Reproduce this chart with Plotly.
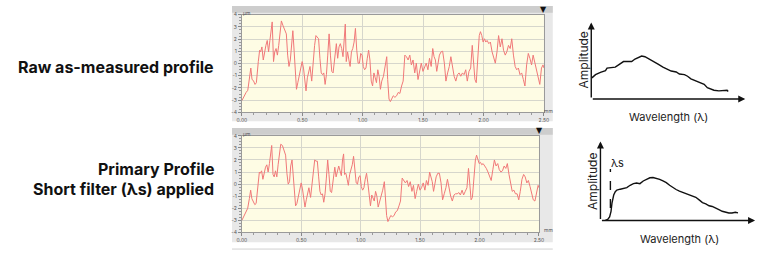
import plotly.graph_objects as go

W, H = 768, 254

# ---------------- data ----------------
pos_mm = [0.000, 0.019, 0.035, 0.049, 0.063, 0.074, 0.084, 0.095, 0.109, 0.120,
          0.136, 0.147, 0.155, 0.166, 0.177, 0.188, 0.199, 0.210, 0.221, 0.232,
          0.243, 0.251, 0.262, 0.272, 0.283, 0.294, 0.305, 0.316, 0.327, 0.341,
          0.354, 0.368, 0.379, 0.390, 0.401, 0.411, 0.422, 0.433, 0.441, 0.452,
          0.463, 0.474, 0.485, 0.499, 0.510, 0.520, 0.531, 0.542, 0.553, 0.564,
          0.578, 0.591, 0.602, 0.613, 0.624, 0.635, 0.646, 0.657, 0.668, 0.678,
          0.689, 0.700, 0.711, 0.722, 0.733, 0.744, 0.755, 0.768, 0.782, 0.793,
          0.804, 0.815, 0.826, 0.837, 0.847, 0.856, 0.864, 0.875, 0.886, 0.896,
          0.907, 0.918, 0.929, 0.940, 0.951, 0.962, 0.973, 0.984, 0.995, 1.005,
          1.016, 1.027, 1.038, 1.049, 1.060, 1.071, 1.082, 1.093, 1.104, 1.114,
          1.125, 1.136, 1.147, 1.158, 1.172, 1.185, 1.199, 1.207, 1.218, 1.229,
          1.240, 1.253, 1.267, 1.281, 1.294, 1.308, 1.322, 1.335, 1.349, 1.362,
          1.376, 1.390, 1.403, 1.417, 1.431, 1.444, 1.458, 1.471, 1.485, 1.499,
          1.512, 1.526, 1.540, 1.553, 1.567, 1.580, 1.591, 1.602, 1.613, 1.624,
          1.635, 1.649, 1.662, 1.676, 1.689, 1.703, 1.717, 1.730, 1.744, 1.757,
          1.771, 1.785, 1.798, 1.812, 1.826, 1.839, 1.853, 1.866, 1.880, 1.894,
          1.907, 1.918, 1.929, 1.940, 1.954, 1.965, 1.975, 1.986, 1.997, 2.008,
          2.019, 2.030, 2.044, 2.057, 2.071, 2.084, 2.098, 2.112, 2.125, 2.139,
          2.153, 2.166, 2.180, 2.193, 2.207, 2.221, 2.234, 2.248, 2.262, 2.275,
          2.289, 2.302, 2.316, 2.330, 2.343, 2.357, 2.371, 2.384, 2.398, 2.411,
          2.425, 2.439, 2.452, 2.466, 2.480, 2.493, 2.500]

raw_um = [-3.04, -2.64, -2.37, -2.19, -1.17, -0.37, -1.31, -1.39, -1.71, -1.57,
          0.16, 1.09, 0.96, 1.36, 0.29, 1.09, 1.49, 1.89, 0.96, 1.89,
          3.09, 3.41, 0.16, 0.96, 1.23, 0.69, 1.49, 2.56, 3.49, 3.09,
          2.69, 2.43, 0.69, -0.24, 0.29, 1.76, 2.69, 0.96, -0.37, -2.11,
          -1.57, -1.04, -0.77, 0.16, -0.37, -1.17, -2.24, -1.17, -0.77, -0.24,
          -1.44, 0.43, 1.49, 2.29, 2.16, 2.03, 0.43, -0.77, -0.91, -0.77,
          -1.71, -0.91, 0.69, 2.43, 0.69, -0.64, -0.77, 0.43, 1.63, 0.43,
          1.36, 1.63, 1.23, 0.56, 2.29, 3.23, 0.16, 0.96, 0.29, -0.24,
          0.96, 1.23, 1.76, 2.88, 1.09, 0.03, 0.03, 0.83, 0.69, -0.24,
          -0.51, -0.37, 0.43, 1.09, 0.29, -1.44, -1.84, -0.77, -1.17, -1.57,
          -0.51, -1.04, -2.11, -1.44, -1.04, -0.37, 0.56, -1.31, -2.91, -3.12,
          -2.91, -2.64, -2.77, -2.64, -2.37, -2.45, -1.84, -1.44, 0.69, 0.56,
          0.29, 0.69, -0.11, 0.29, -0.77, 0.03, -1.31, -0.51, 0.03, -0.64,
          -0.37, 0.03, -0.51, 0.43, -0.24, 1.23, 0.56, 0.29, -0.64, 0.16,
          0.69, 0.96, 1.01, 0.03, -1.44, -0.77, -0.24, 0.56, -0.37, -1.04,
          -1.44, -0.91, -0.77, -1.04, -0.77, -0.91, -0.51, -1.44, -0.64, -0.37,
          1.49, -0.24, -1.31, -1.57, 0.96, 2.29, 2.61, 2.29, 1.76, 2.03,
          1.76, 1.89, 1.63, 1.76, 0.96, 0.43, 0.03, 0.96, 2.29, 1.36,
          2.03, 1.09, 0.69, 0.96, 1.49, 1.23, 2.03, 0.69, -0.24, -0.51,
          -0.37, -0.91, -0.77, -1.31, -1.84, -0.11, 0.83, 0.43, -0.11, 0.69,
          0.03, -0.64, -1.17, -1.71, -0.37, -0.11, -0.37]

primary_um = [-3.0, -2.6, -2.3, -2.0, -1.2, -0.5, -1.2, -1.5, -1.7, -1.6,
              0.3, 1.0, 0.9, 1.1, 0.4, 1.0, 1.4, 1.6, 1.0, 1.7,
              2.7, 3.2, 0.8, 0.6, 1.1, 0.6, 1.6, 2.7, 3.3, 3.2,
              2.8, 2.4, 0.9, 0.0, 0.2, 1.5, 2.0, 0.6, -0.6, -1.8,
              -1.6, -1.0, -0.6, 0.1, -0.4, -1.0, -1.9, -1.3, -0.8, -0.3,
              -1.1, 0.3, 1.3, 2.0, 1.9, 1.9, 0.6, -0.6, -0.9, -0.8,
              -1.5, -0.8, 0.5, 2.0, 0.8, -0.6, -0.7, 0.4, 1.4, 0.6,
              1.2, 1.5, 1.1, 0.7, 2.0, 2.5, 0.8, 0.9, 0.4, -0.1,
              0.8, 1.2, 1.6, 2.3, 1.1, 0.1, 0.0, 0.6, 0.7, -0.2,
              -0.5, -0.3, 0.4, 0.9, 0.1, -1.2, -1.8, -0.9, -1.1, -1.4,
              -0.6, -1.0, -1.9, -1.5, -1.1, -0.5, 0.2, -1.0, -2.6, -3.1,
              -2.9, -2.6, -2.7, -2.6, -2.3, -2.2, -1.8, -1.4, 0.5, 0.3,
              0.1, 0.3, -0.2, 0.2, -0.6, -0.1, -1.2, -0.6, 0.0, -0.5,
              -0.3, 0.1, -0.5, 0.3, -0.1, 1.0, 0.5, 0.2, -0.6, 0.1,
              0.6, 0.9, 0.9, 0.1, -1.3, -0.8, -0.3, 0.4, -0.4, -1.0,
              -1.4, -0.9, -0.8, -0.8, -0.7, -0.9, -0.5, -0.9, -0.6, -0.3,
              1.3, 0.0, -1.3, -1.1, 0.8, 2.0, 2.4, 2.1, 1.7, 1.8,
              1.6, 1.7, 1.5, 1.3, 1.0, 0.6, 0.3, 1.2, 2.0, 1.5,
              1.7, 1.2, 1.0, 1.1, 1.5, 1.3, 1.7, 0.8, 0.0, -0.6,
              -0.5, -0.8, -0.8, -1.3, -0.6, 0.4, 0.8, 0.6, 0.1, 0.3,
              -0.2, -0.8, -1.3, -1.4, -0.6, -0.1, -0.3]

x_ticks = [0.0, 0.5, 1.0, 1.5, 2.0, 2.5]
y_ticks = [4, 3, 2, 1, 0, -1, -2, -3, -4]

# sketch 1: raw spectrum
wl1 = [0.04, 0.27, 0.58, 0.90, 1.00, 1.21, 1.52, 1.73, 2.04, 2.35, 2.56, 2.77,
       2.98, 3.19, 3.40, 3.60, 3.92, 4.23, 4.54, 4.85, 5.06, 5.38, 5.58, 5.90,
       6.10, 6.31, 6.63, 6.94, 7.15, 7.35, 7.56, 7.77, 8.08, 8.40, 8.60, 8.67]
amp1 = [2.70, 3.12, 3.41, 3.62, 3.95, 4.04, 4.08, 4.37, 4.79, 4.79, 4.79, 5.12,
        5.29, 5.50, 5.41, 5.20, 4.87, 4.45, 4.08, 3.75, 3.58, 3.45, 3.20, 3.12,
        2.91, 2.58, 2.29, 2.08, 1.87, 1.45, 1.25, 1.12, 1.04, 1.04, 1.12, 0.95]

# sketch 2: after short filter
wl2 = [0.31, 0.46, 0.58, 0.67, 0.73, 0.84, 0.94, 1.04, 1.25, 1.46, 1.67, 1.88,
       2.09, 2.29, 2.50, 2.71, 2.92, 3.13, 3.33, 3.54, 3.75, 3.96, 4.17, 4.38,
       4.58, 4.79, 5.00, 5.21, 5.42, 5.63, 5.83, 6.04, 6.25, 6.46, 6.67, 6.88,
       7.08, 7.29, 7.50, 7.71, 7.92, 8.13, 8.33, 8.54, 8.71]
amp2 = [0.00, 0.13, 0.46, 1.17, 2.21, 3.25, 3.67, 3.88, 4.00, 4.09, 4.21, 4.50,
        4.71, 4.79, 4.71, 5.05, 5.25, 5.46, 5.50, 5.42, 5.25, 5.05, 4.84, 4.50,
        4.21, 3.96, 3.75, 3.59, 3.46, 3.25, 3.13, 2.96, 2.63, 2.29, 2.13, 1.88,
        1.79, 1.54, 1.38, 1.17, 1.04, 0.96, 0.96, 1.04, 0.96]
cutoff_ls = 0.63
cutoff_span = [1.59, 6.59]

# ---------------- layout helpers ----------------
def px(x):
    return x / W

def py(y):
    return 1 - y / H

FONT = "Inter, Liberation Sans, Arial, sans-serif"
RED = "#f07878"
CREAM = "#fefce4"
GRID = "#d6d6cc"

fig = go.Figure()

fig.add_trace(go.Scatter(x=pos_mm, y=raw_um, mode="lines",
                         line=dict(color=RED, width=1), xaxis="x", yaxis="y",
                         showlegend=False, hoverinfo="skip"))
fig.add_trace(go.Scatter(x=pos_mm, y=primary_um, mode="lines",
                         line=dict(color=RED, width=1), xaxis="x2", yaxis="y2",
                         showlegend=False, hoverinfo="skip"))
fig.add_trace(go.Scatter(x=wl1, y=amp1, mode="lines",
                         line=dict(color="#111", width=1.4), xaxis="x3", yaxis="y3",
                         showlegend=False, hoverinfo="skip"))
fig.add_trace(go.Scatter(x=wl2, y=amp2, mode="lines",
                         line=dict(color="#111", width=1.4), xaxis="x4", yaxis="y4",
                         showlegend=False, hoverinfo="skip"))
fig.add_trace(go.Scatter(x=[cutoff_ls, cutoff_ls], y=cutoff_span, mode="lines",
                         line=dict(color="#111", width=1.4, dash="dash"),
                         xaxis="x4", yaxis="y4", showlegend=False, hoverinfo="skip"))

def prof_x(dom):
    return dict(domain=dom, range=[0, 2.5], tickvals=x_ticks,
                ticktext=[f"{v:.2f}" for v in x_ticks],
                showgrid=True, gridcolor=GRID, gridwidth=1,
                showline=True, linecolor="#9a9a9a", linewidth=1, mirror=True,
                ticks="outside", ticklen=3, tickcolor="#888",
                tickfont=dict(size=5, color="#555", family=FONT),
                minor=dict(dtick=0.1, ticklen=2, tickcolor="#999", ticks="outside", showgrid=False),
                zeroline=False, fixedrange=True)

def prof_y(dom):
    return dict(domain=dom, range=[-4, 4], tickvals=y_ticks,
                ticktext=[str(v) for v in y_ticks],
                showgrid=True, gridcolor=GRID, gridwidth=1,
                showline=True, linecolor="#9a9a9a", linewidth=1, mirror=True,
                ticks="outside", ticklen=3, tickcolor="#888",
                tickfont=dict(size=5, color="#555", family=FONT),
                minor=dict(dtick=0.25, ticklen=2, tickcolor="#999", ticks="outside", showgrid=False),
                zeroline=False, fixedrange=True)

hidden = dict(visible=False, fixedrange=True)

fig.update_layout(
    width=W, height=H,
    margin=dict(l=0, r=0, t=0, b=0),
    paper_bgcolor="white", plot_bgcolor="rgba(0,0,0,0)",
    font=dict(family=FONT),
    xaxis=dict(**prof_x([px(240), px(546)]), anchor="y"),
    yaxis=dict(**prof_y([py(112), py(12)]), anchor="x"),
    xaxis2=dict(**prof_x([px(240), px(541)]), anchor="y2"),
    yaxis2=dict(**prof_y([py(235), py(136)]), anchor="x2"),
    xaxis3=dict(**hidden, domain=[px(594), px(754)], range=[0, 10], anchor="y3"),
    yaxis3=dict(**hidden, domain=[py(98.3), py(18.3)], range=[0, 10], anchor="x3"),
    xaxis4=dict(**hidden, domain=[px(603.3), px(763.3)], range=[0, 10], anchor="y4"),
    yaxis4=dict(**hidden, domain=[py(222.7), py(142.7)], range=[0, 10], anchor="x4"),
)

shapes = []
# instrument frames
for (x0, y0, x1, y1, pxr, pyb, pyt) in [(230, 3, 555, 121, 546, 112, 12),
                                         (230, 128, 555, 245, 541, 235, 136)]:
    shapes.append(dict(type="rect", xref="paper", yref="paper", layer="below",
                       x0=px(x0), x1=px(x1), y0=py(y1), y1=py(y0),
                       fillcolor="#e8e8e8", line=dict(width=0)))
    shapes.append(dict(type="rect", xref="paper", yref="paper", layer="below",
                       x0=px(x0), x1=px(x1), y0=py(y0 + 7), y1=py(y0),
                       fillcolor="#cdcdcd", line=dict(width=0)))
    shapes.append(dict(type="rect", xref="paper", yref="paper", layer="below",
                       x0=px(240), x1=px(pxr), y0=py(pyb), y1=py(pyt),
                       fillcolor=CREAM, line=dict(width=0)))
# faint separator under the lower panel
shapes.append(dict(type="line", xref="paper", yref="paper", layer="below",
                   x0=px(230), x1=px(555), y0=py(252), y1=py(252),
                   line=dict(color="#d0d0d0", width=1)))
fig.update_layout(shapes=shapes)

ann = []

def label(text, x, y, size, color="#111", angle=0, xanchor="center", family=FONT):
    return dict(text=text, x=px(x), y=py(y), xref="paper", yref="paper",
                xanchor=xanchor, yanchor="middle", textangle=angle,
                showarrow=False, font=dict(size=size, color=color, family=family))

# left captions
ann.append(label("<b>Raw as-measured profile</b>", 214, 66, 16, xanchor="right"))
ann.append(label("<b>Primary Profile</b>", 214, 170, 16, xanchor="right"))
ann.append(label("<b>Short filter (λs) applied</b>", 214, 190, 16, xanchor="right"))

# unit labels and markers on instrument panels
for (ux, uy, mx, my, tx, ty) in [(245, 10, 551, 111, 546, 7), (245, 134, 551, 233, 542, 131)]:
    ann.append(label("µm", ux, uy, 5, color="#555"))
    ann.append(label("mm", mx, my, 5, color="#555"))
    ann.append(label("▼", tx, ty, 8, family="DejaVu Sans"))

# sketch axes with arrows
for xa, ya, xt, yt in [("x3", "y3", 9.75, 9.79), ("x4", "y4", 9.79, 10.1)]:
    ann.append(dict(x=xt, y=0, ax=0, ay=0, xref=xa, yref=ya, axref=xa, ayref=ya,
                    text="", showarrow=True, arrowhead=2, arrowsize=1,
                    arrowwidth=1.4, arrowcolor="#111"))
    ann.append(dict(x=0, y=yt, ax=0, ay=0, xref=xa, yref=ya, axref=xa, ayref=ya,
                    text="", showarrow=True, arrowhead=2, arrowsize=1,
                    arrowwidth=1.4, arrowcolor="#111"))

# sketch labels
for (ax_x, ax_y, wx, wy) in [(586.5, 58, 672, 117), (595, 183, 683, 242)]:
    ann.append(label("Amplitude", ax_x, ax_y, 12, color="#222", angle=-90))
    ann.append(label("Wavelength (λ)", wx, wy, 11, color="#222"))
ann.append(dict(text="λs", x=1.1, y=7.4, xref="x4", yref="y4", showarrow=False,
                xanchor="center", yanchor="middle",
                font=dict(size=11, color="#222", family=FONT)))

fig.update_layout(annotations=ann)

fig.write_html("out.html")
